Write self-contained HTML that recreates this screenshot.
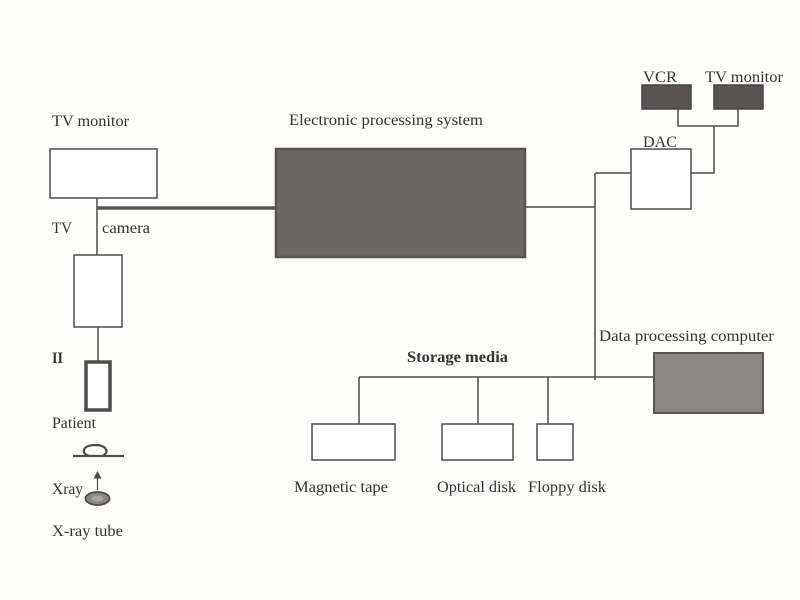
<!DOCTYPE html>
<html><head><meta charset="utf-8"><style>
html,body{margin:0;padding:0;background:#fdfdfb;}
svg{display:block;}
text{font-family:"Liberation Serif",serif;font-size:16px;fill:#353333;}
</style></head><body>
<svg width="800" height="600" viewBox="0 0 800 600" xmlns="http://www.w3.org/2000/svg">
<rect width="800" height="600" fill="#fdfdfb"/>
<g stroke="#4e4b4a" fill="none" stroke-width="1.5">
<!-- left chain -->
<rect x="50" y="149" width="107" height="49" fill="#fff"/>
<line x1="97" y1="198" x2="97" y2="255"/>
<line x1="97" y1="208" x2="275" y2="208" stroke-width="3.5" stroke="#555"/>
<rect x="74" y="255" width="48" height="72" fill="#fff"/>
<line x1="98" y1="327" x2="98" y2="362"/>
<rect x="86" y="362" width="24" height="48" stroke-width="3.5" fill="#fff"/>
<!-- patient -->
<line x1="73" y1="456" x2="124" y2="456" stroke-width="2.2"/>
<path d="M89 456 C80 453, 83 445, 95 445 C107 445, 110 453, 102 456" stroke-width="2.2"/>
<!-- arrow -->
<line x1="97.5" y1="490" x2="97.5" y2="477" stroke-width="1.2"/>
<!-- EPS -->
<rect x="276" y="149" width="249" height="108" fill="#6b6765" stroke="#575352" stroke-width="2.5"/>
<line x1="526" y1="207" x2="595" y2="207"/>
<line x1="595" y1="173" x2="595" y2="380"/>
<line x1="595" y1="173" x2="631" y2="173"/>
<!-- DAC -->
<rect x="631" y="149" width="60" height="60" fill="#fff"/>
<polyline points="691,173 714,173 714,126"/>
<polyline points="678,109 678,126 738,126 738,109"/>
<rect x="642" y="85" width="49" height="24" fill="#595554" stroke="#444"/>
<rect x="714" y="85" width="49" height="24" fill="#595554" stroke="#444"/>
<!-- storage -->
<line x1="359" y1="377" x2="654" y2="377"/>
<line x1="359" y1="377" x2="359" y2="424"/>
<line x1="478" y1="377" x2="478" y2="424"/>
<line x1="548" y1="377" x2="548" y2="424"/>
<rect x="312" y="424" width="83" height="36" fill="#fff"/>
<rect x="442" y="424" width="71" height="36" fill="#fff"/>
<rect x="537" y="424" width="36" height="36" fill="#fff"/>
<rect x="654" y="353" width="109" height="60" fill="#8a8685" stroke="#5a5756" stroke-width="2"/>
</g>
<polygon points="97.5,471 93.5,478.5 101.5,478.5" fill="#4e4b4a"/>
<ellipse cx="97.5" cy="498.5" rx="12" ry="6.5" fill="#8a8685" stroke="#4e4b4a" stroke-width="1.8"/>
<ellipse cx="97.5" cy="498.5" rx="6" ry="3" fill="#a8a4a2"/>
<!-- labels -->
<text x="52" y="126" textLength="77" lengthAdjust="spacingAndGlyphs">TV monitor</text>
<text x="52" y="233" textLength="20" lengthAdjust="spacingAndGlyphs">TV</text>
<text x="102" y="233" textLength="48" lengthAdjust="spacingAndGlyphs">camera</text>
<text x="52" y="363" font-weight="bold" textLength="11" lengthAdjust="spacingAndGlyphs">II</text>
<text x="52" y="428" textLength="44" lengthAdjust="spacingAndGlyphs">Patient</text>
<text x="52" y="494" textLength="31" lengthAdjust="spacingAndGlyphs">Xray</text>
<text x="52" y="536" textLength="71" lengthAdjust="spacingAndGlyphs">X-ray tube</text>
<text x="289" y="125" textLength="194" lengthAdjust="spacingAndGlyphs">Electronic processing system</text>
<text x="643" y="82" textLength="34" lengthAdjust="spacingAndGlyphs">VCR</text>
<text x="705" y="82" textLength="78" lengthAdjust="spacingAndGlyphs">TV monitor</text>
<text x="643" y="147" textLength="34" lengthAdjust="spacingAndGlyphs">DAC</text>
<text x="599" y="341" textLength="175" lengthAdjust="spacingAndGlyphs">Data processing computer</text>
<text x="407" y="362" font-weight="bold" textLength="101" lengthAdjust="spacingAndGlyphs">Storage media</text>
<text x="294" y="492" textLength="94" lengthAdjust="spacingAndGlyphs">Magnetic tape</text>
<text x="437" y="492" textLength="79" lengthAdjust="spacingAndGlyphs">Optical disk</text>
<text x="528" y="492" textLength="78" lengthAdjust="spacingAndGlyphs">Floppy disk</text>
</svg>
</body></html>
